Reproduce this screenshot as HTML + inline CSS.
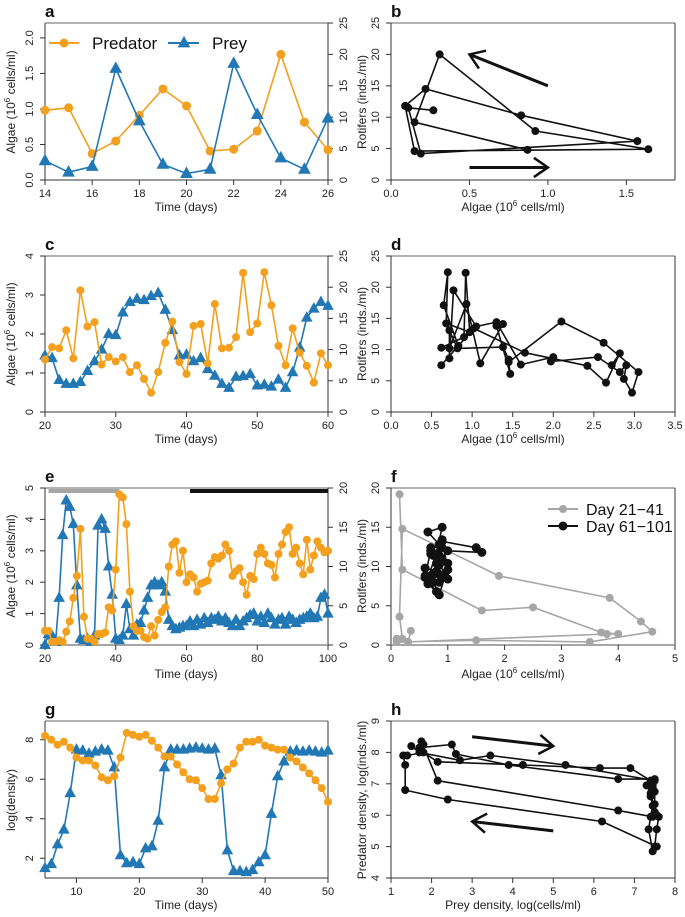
<!DOCTYPE html>
<html><head><meta charset="utf-8"><style>
html,body{margin:0;padding:0;background:#fff;}
svg{display:block;font-family:"Liberation Sans",Arial,sans-serif;}
</style></head><body>
<svg id="fig" width="685" height="917" viewBox="0 0 685 917" xmlns="http://www.w3.org/2000/svg"></svg>
<script>
// ---------- DATA ----------
// Panel a/b (days 14..26)
const daysA = [14,15,16,17,18,19,20,21,22,23,24,25,26];
const preyA = [0.27,0.11,0.19,1.57,0.83,0.22,0.09,0.15,1.64,0.92,0.31,0.15,0.87];
const predA = [11.1,11.5,4.2,6.2,10.3,14.5,11.8,4.6,4.9,7.8,20.0,9.2,4.8];
// Panel c/d (days 20..60)
const daysC = [20,21,22,23,24,25,26,27,28,29,30,31,32,33,34,35,36,37,38,39,40,41,42,43,44,45,46,47,48,49,50,51,52,53,54,55,56,57,58,59,60];
const preyC = [1.45,1.38,0.82,0.72,0.72,0.77,1.05,1.3,1.6,2.0,1.97,2.55,2.82,2.9,2.87,2.97,3.05,2.62,2.1,1.45,1.47,1.3,1.38,1.1,0.93,0.72,0.62,0.9,0.92,0.97,0.68,0.7,0.65,0.83,0.62,1.02,1.65,2.42,2.65,2.82,2.72];
const predC = [8.4,10.4,10.2,13.1,8.6,19.5,13.7,14.4,7.6,8.8,8.1,8.8,6.4,7.5,5.3,3.1,6.4,11.1,14.5,8.0,6.1,13.8,14.1,7.8,17.3,10.2,10.3,12.0,22.3,12.8,14.2,22.4,17.1,10.6,7.5,13.4,9.5,7.4,4.7,9.4,7.5];
// Panel e/f (days 20..100)
const daysE = [];
for (let d = 20; d <= 100; d++) daysE.push(d);
const preyE = [0.0,0.35,0.3,0.1,1.5,3.5,4.6,4.4,3.85,1.9,0.2,0.15,0.2,0.1,0.3,3.8,4.0,3.7,2.5,1.6,0.2,0.15,0.3,1.3,0.5,0.3,0.65,0.7,1.1,1.5,1.9,2.0,1.9,2.0,1.7,0.8,0.6,0.5,0.55,0.6,0.6,0.75,0.6,0.8,0.65,0.85,0.7,0.85,0.8,0.9,0.75,0.85,0.7,0.6,0.8,0.6,0.75,0.85,0.95,1.0,0.75,0.9,0.7,1.0,0.85,0.65,0.8,0.85,0.65,0.9,0.8,0.7,0.8,0.85,0.9,1.0,0.85,0.9,1.5,1.6,1.0];
const predE = [1.8,1.8,0.4,0.4,0.6,0.4,1.7,3.0,6.0,8.8,14.8,3.6,0.8,0.8,0.4,1.4,1.4,1.6,4.8,4.4,9.6,19.2,18.8,15.4,6.8,2.4,1.8,1.8,1.0,0.8,2.4,1.2,3.2,4.2,4.8,10.0,12.8,13.2,9.2,12.0,8.0,9.0,8.6,6.8,7.8,8.0,8.2,10.4,11.2,11.0,11.4,12.8,12.0,8.8,9.4,9.8,8.0,6.4,8.8,8.4,11.6,12.4,11.6,10.4,10.2,8.6,11.6,12.8,14.4,15.0,11.6,12.4,10.4,9.0,13.4,9.6,11.4,13.2,12.4,11.8,12.0];
// Panel g/h (days 5..50)
const daysG = [5,6,7,8,9,10,11,12,13,14,15,16,17,18,19,20,21,22,23,24,25,26,27,28,29,30,31,32,33,34,35,36,37,38,39,40,41,42,43,44,45,46,47,48,49,50];
const preyG = [1.5,1.7,2.7,3.45,5.3,7.5,7.45,7.3,7.4,7.5,7.45,6.6,2.15,1.75,1.8,1.7,2.5,2.6,3.9,6.6,7.5,7.5,7.5,7.55,7.6,7.55,7.5,7.55,6.2,2.4,1.35,1.35,1.3,1.4,1.8,2.15,4.25,6.15,6.9,7.4,7.45,7.4,7.45,7.4,7.35,7.45];
const predG = [8.2,8.0,7.75,7.9,7.6,7.1,6.95,6.95,6.7,6.1,5.95,6.15,7.1,8.35,8.25,8.15,8.25,7.95,7.6,7.15,7.15,6.75,6.35,6.0,5.95,5.55,5.0,5.0,5.8,6.5,6.8,7.6,7.9,7.9,8.0,7.7,7.6,7.5,7.5,7.1,6.9,6.6,6.3,5.95,5.55,4.85];
// Tick labels
const ticksA_x = ["14","16","18","20","22","24","26"];
const ticksA_yl = ["0.0","0.5","1.0","1.5","2.0"];
const ticksRot25 = ["0","5","10","15","20","25"];
const ticksB_x = ["0.0","0.5","1.0","1.5"];
const ticksC_x = ["20","30","40","50","60"];
const ticksC_yl = ["0","1","2","3","4"];
const ticksD_x = ["0.0","0.5","1.0","1.5","2.0","2.5","3.0","3.5"];
const ticksE_x = ["20","40","60","80","100"];
const ticksE_yl = ["0","1","2","3","4","5"];
const ticksRot20 = ["0","5","10","15","20"];
const ticksF_x = ["0","1","2","3","4","5"];
const ticksG_x = ["10","20","30","40","50"];
const ticksG_y = ["2","4","6","8"];
const ticksH_x = ["1","2","3","4","5","6","7","8"];
const ticksH_y = ["4","5","6","7","8","9"];

// ---------- DRAW ----------
const NS = "http://www.w3.org/2000/svg";
const svg = document.getElementById("fig");
const ORANGE = "#F2A01E", BLUE = "#2277B5", GRAY = "#A6A6A6";
function mk(tag, attrs, parent) {
  const e = document.createElementNS(NS, tag);
  for (const k in attrs) e.setAttribute(k, attrs[k]);
  (parent || svg).appendChild(e);
  return e;
}
function lin(d0, d1, p0, p1) { return v => p0 + (v - d0) / (d1 - d0) * (p1 - p0); }

function frame(name, L, R, T, B, letter) {
  const g = mk("g", {});
  
  
  mk("line", {x1:L, y1:T, x2:R, y2:T, stroke:"#999", "stroke-width":1.5}, g);
  mk("line", {x1:L, y1:B, x2:R, y2:B, stroke:"#333", "stroke-width":1}, g);
  mk("line", {x1:L, y1:T, x2:L, y2:B, stroke:"#333", "stroke-width":1}, g);
  mk("line", {x1:R, y1:T, x2:R, y2:B, stroke:"#333", "stroke-width":1}, g);
  const t = mk("text", {x:L, y:T - 6, "font-size":17, "font-weight":"bold", fill:"#111"}, g);
  t.textContent = letter;
  
  
  return g;
}
function xAxis(g, labels, sx, B, title, titleY) {
  labels.forEach(l => {
    const x = sx(parseFloat(l));
    mk("line", {x1:x, y1:B, x2:x, y2:B + 5, stroke:"#333"}, g);
    const t = mk("text", {x:x, y:B + 17, "font-size":11, "text-anchor":"middle", fill:"#222"}, g);
    t.textContent = l;
  });
  if (title) {
    const t = mk("text", {x:0, y:titleY, "font-size":12, "text-anchor":"middle", fill:"#222"}, g);
    t.innerHTML = title.text;
    t.setAttribute("x", title.x);
    
    
  }
}
function yAxis(g, labels, sy, X, side) {
  const dir = side === "left" ? -1 : 1;
  labels.forEach(l => {
    const y = sy(parseFloat(l));
    mk("line", {x1:X, y1:y, x2:X + dir * 5, y2:y, stroke:"#333"}, g);
    const tx = X + dir * 12;
    const t = mk("text", {x:tx, y:y, "font-size":11, "text-anchor":"middle", fill:"#222",
      transform:"rotate(-90," + tx + "," + y + ")", "dy":"0.0em"}, g);
    t.setAttribute("dominant-baseline", side === "left" ? "auto" : "hanging");
    t.textContent = l;
  });
}
function yTitle(g, x, y, html) {
  const t = mk("text", {x:x, y:y, "font-size":12, "text-anchor":"middle", fill:"#222", transform:"rotate(-90," + x + "," + y + ")"}, g);
  t.innerHTML = html;
  
  
}
function tri(g, x, y, s, col) {
  return mk("polygon", {points:(x) + "," + (y - s * 0.65) + " " + (x - s * 0.58) + "," + (y + s * 0.4) + " " + (x + s * 0.58) + "," + (y + s * 0.4), fill:col}, g);
}
function series(g, xs, ys, sx, sy, col, shape, r, name, lw) {
  const pts = xs.map((v, i) => sx(v).toFixed(1) + "," + sy(ys[i]).toFixed(1)).join(" ");
  const pl = mk("polyline", {points:pts, fill:"none", stroke:col, "stroke-width":lw || 1.6, "stroke-linejoin":"round"}, g);
  
  
  xs.forEach((v, i) => {
    let m;
    if (shape === "tri") m = tri(g, sx(v), sy(ys[i]), r, col);
    else m = mk("circle", {cx:sx(v), cy:sy(ys[i]), r:r, fill:col}, g);
    
    
  });
}
function arrow(g, x1, y1, x2, y2) {
  mk("line", {x1:x1, y1:y1, x2:x2, y2:y2, stroke:"#111", "stroke-width":3}, g);
  const a = Math.atan2(y2 - y1, x2 - x1), h = 17, sp = 0.6;
  const p1 = [x2 - h * Math.cos(a - sp), y2 - h * Math.sin(a - sp)];
  const p2 = [x2 - h * Math.cos(a + sp), y2 - h * Math.sin(a + sp)];
  mk("polyline", {points:p1.join(",") + " " + x2 + "," + y2 + " " + p2.join(","), fill:"none", stroke:"#111", "stroke-width":2.5}, g);
}
const ALG = 'Algae (10<tspan dy="-5" font-size="8">6</tspan><tspan dy="5"> cells/ml)</tspan>';
const LX = 45, LR = 328, RX = 391, RR = 675;

// ---- Panel a ----
(function(){
  const T = 23, B = 180;
  const g = frame("panel-a", LX, LR, T, B, "a");
  const sx = lin(14, 26, LX, LR), syL = lin(0, 2.21, B, T), syR = lin(0, 25, B, T);
  xAxis(g, ticksA_x, sx, B, {text:"Time (days)", x:186}, 211);
  yAxis(g, ticksA_yl, syL, LX, "left");
  yAxis(g, ticksRot25, syR, LR, "right");
  yTitle(g, 15, 102, ALG);
  series(g, daysA, predA, sx, syR, ORANGE, "circle", 4.5, "predator");
  series(g, daysA, preyA, sx, syL, BLUE, "tri", 11, "prey");
  const lg = mk("g", {}, g);
  
  
  mk("line", {x1:49, y1:43, x2:79, y2:43, stroke:ORANGE, "stroke-width":2}, lg);
  mk("circle", {cx:64, cy:43, r:4.5, fill:ORANGE}, lg);
  const t1 = mk("text", {x:92, y:49, "font-size":17, fill:"#111"}, lg); t1.textContent = "Predator";
  mk("line", {x1:168, y1:43, x2:199, y2:43, stroke:BLUE, "stroke-width":2}, lg);
  tri(lg, 184, 43, 11, BLUE);
  const t2 = mk("text", {x:212, y:49, "font-size":17, fill:"#111"}, lg); t2.textContent = "Prey";
})();
// ---- Panel b ----
(function(){
  const T = 23, B = 180;
  const g = frame("panel-b", RX, RR, T, B, "b");
  const sx = lin(0, 1.81, RX, RR), sy = lin(0, 25, B, T);
  xAxis(g, ticksB_x, sx, B, {text:ALG, x:513}, 211);
  yAxis(g, ticksRot25, sy, RX, "left");
  yTitle(g, 366, 102, "Rotifers (inds./ml)");
  series(g, preyA, predA, sx, sy, "#111", "circle", 4, "phase");
  arrow(g, sx(1.0), sy(15), sx(0.5), sy(20));
  arrow(g, sx(0.5), sy(2), sx(1.0), sy(2));
})();
// ---- Panel c ----
(function(){
  const T = 256, B = 412;
  const g = frame("panel-c", LX, LR, T, B, "c");
  const sx = lin(20, 60, LX, LR), syL = lin(0, 4, B, T), syR = lin(0, 25, B, T);
  xAxis(g, ticksC_x, sx, B, {text:"Time (days)", x:186}, 443);
  yAxis(g, ticksC_yl, syL, LX, "left");
  yAxis(g, ticksRot25, syR, LR, "right");
  yTitle(g, 15, 334, ALG);
  series(g, daysC, preyC, sx, syL, BLUE, "tri", 10, "prey");
  series(g, daysC, predC, sx, syR, ORANGE, "circle", 4, "predator");
})();
// ---- Panel d ----
(function(){
  const T = 256, B = 412;
  const g = frame("panel-d", RX, RR, T, B, "d");
  const sx = lin(0, 3.5, RX, RR), sy = lin(0, 25, B, T);
  xAxis(g, ticksD_x, sx, B, {text:ALG, x:513}, 443);
  yAxis(g, ticksRot25, sy, RX, "left");
  yTitle(g, 366, 334, "Rotifers (inds./ml)");
  series(g, preyC, predC, sx, sy, "#111", "circle", 4, "phase");
})();
// ---- Panel e ----
(function(){
  const T = 488, B = 645;
  const g = frame("panel-e", LX, LR, T, B, "e");
  const sx = lin(20, 100, LX, LR), syL = lin(0, 5, B, T), syR = lin(0, 20, B, T);
  mk("line", {x1:LX, y1:B, x2:LR, y2:B, stroke:GRAY, "stroke-width":2}, g);
  const b1 = mk("rect", {x:sx(21), y:T + 1, width:sx(41) - sx(21), height:4, fill:GRAY}, g);
  
  
  const b2 = mk("rect", {x:sx(61), y:T + 1, width:sx(100) - sx(61), height:4, fill:"#111"}, g);
  
  
  xAxis(g, ticksE_x, sx, B, {text:"Time (days)", x:186}, 678);
  yAxis(g, ticksE_yl, syL, LX, "left");
  yAxis(g, ticksRot20, syR, LR, "right");
  yTitle(g, 15, 566, ALG);
  series(g, daysE, preyE, sx, syL, BLUE, "tri", 10, "prey");
  series(g, daysE, predE, sx, syR, ORANGE, "circle", 4, "predator");
})();
// ---- Panel f ----
(function(){
  const T = 488, B = 645;
  const g = frame("panel-f", RX, RR, T, B, "f");
  const sx = lin(0, 5, RX, RR), sy = lin(0, 20, B, T);
  mk("line", {x1:RX, y1:B, x2:RR, y2:B, stroke:GRAY, "stroke-width":2}, g);
  xAxis(g, ticksF_x, sx, B, {text:ALG, x:513}, 678);
  yAxis(g, ticksRot20, sy, RX, "left");
  yTitle(g, 366, 566, "Rotifers (inds./ml)");
  const i1 = daysE.indexOf(21), i2 = daysE.indexOf(41), i3 = daysE.indexOf(61);
  series(g, preyE.slice(i1, i2 + 1), predE.slice(i1, i2 + 1), sx, sy, GRAY, "circle", 4, "day-21-41");
  series(g, preyE.slice(i3), predE.slice(i3), sx, sy, "#111", "circle", 4.5, "day-61-101");
  const lg = mk("g", {}, g);
  
  
  mk("line", {x1:548, y1:509, x2:578, y2:509, stroke:GRAY, "stroke-width":2}, lg);
  mk("circle", {cx:563, cy:509, r:4, fill:GRAY}, lg);
  const t1 = mk("text", {x:586, y:515, "font-size":16, fill:"#111"}, lg); t1.textContent = "Day 21\u221241";
  mk("line", {x1:548, y1:526, x2:578, y2:526, stroke:"#111", "stroke-width":2}, lg);
  mk("circle", {cx:563, cy:526, r:4.5, fill:"#111"}, lg);
  const t2 = mk("text", {x:586, y:532, "font-size":16, fill:"#111"}, lg); t2.textContent = "Day 61\u2212101";
})();
// ---- Panel g ----
(function(){
  const T = 721, B = 878;
  const g = frame("panel-g", LX, LR, T, B, "g");
  const sx = lin(5, 50, LX, LR), sy = lin(1, 8.95, B, T);
  xAxis(g, ticksG_x, sx, B, {text:"Time (days)", x:186}, 909);
  yAxis(g, ticksG_y, sy, LX, "left");
  yTitle(g, 15, 800, "log(density)");
  series(g, daysG, preyG, sx, sy, BLUE, "tri", 10, "prey");
  series(g, daysG, predG, sx, sy, ORANGE, "circle", 4, "predator");
})();
// ---- Panel h ----
(function(){
  const T = 721, B = 878;
  const g = frame("panel-h", RX, RR, T, B, "h");
  const sx = lin(1, 8, RX, RR), sy = lin(4, 9, B, T);
  xAxis(g, ticksH_x, sx, B, {text:"Prey density, log(cells/ml)", x:513}, 909);
  yAxis(g, ticksH_y, sy, RX, "left");
  yTitle(g, 366, 800, "Predator density, log(inds./ml)");
  series(g, preyG, predG, sx, sy, "#111", "circle", 4, "phase");
  arrow(g, sx(3), sy(8.5), sx(5), sy(8.2));
  arrow(g, sx(5), sy(5.5), sx(3), sy(5.8));
})();
</script>
</body></html>
